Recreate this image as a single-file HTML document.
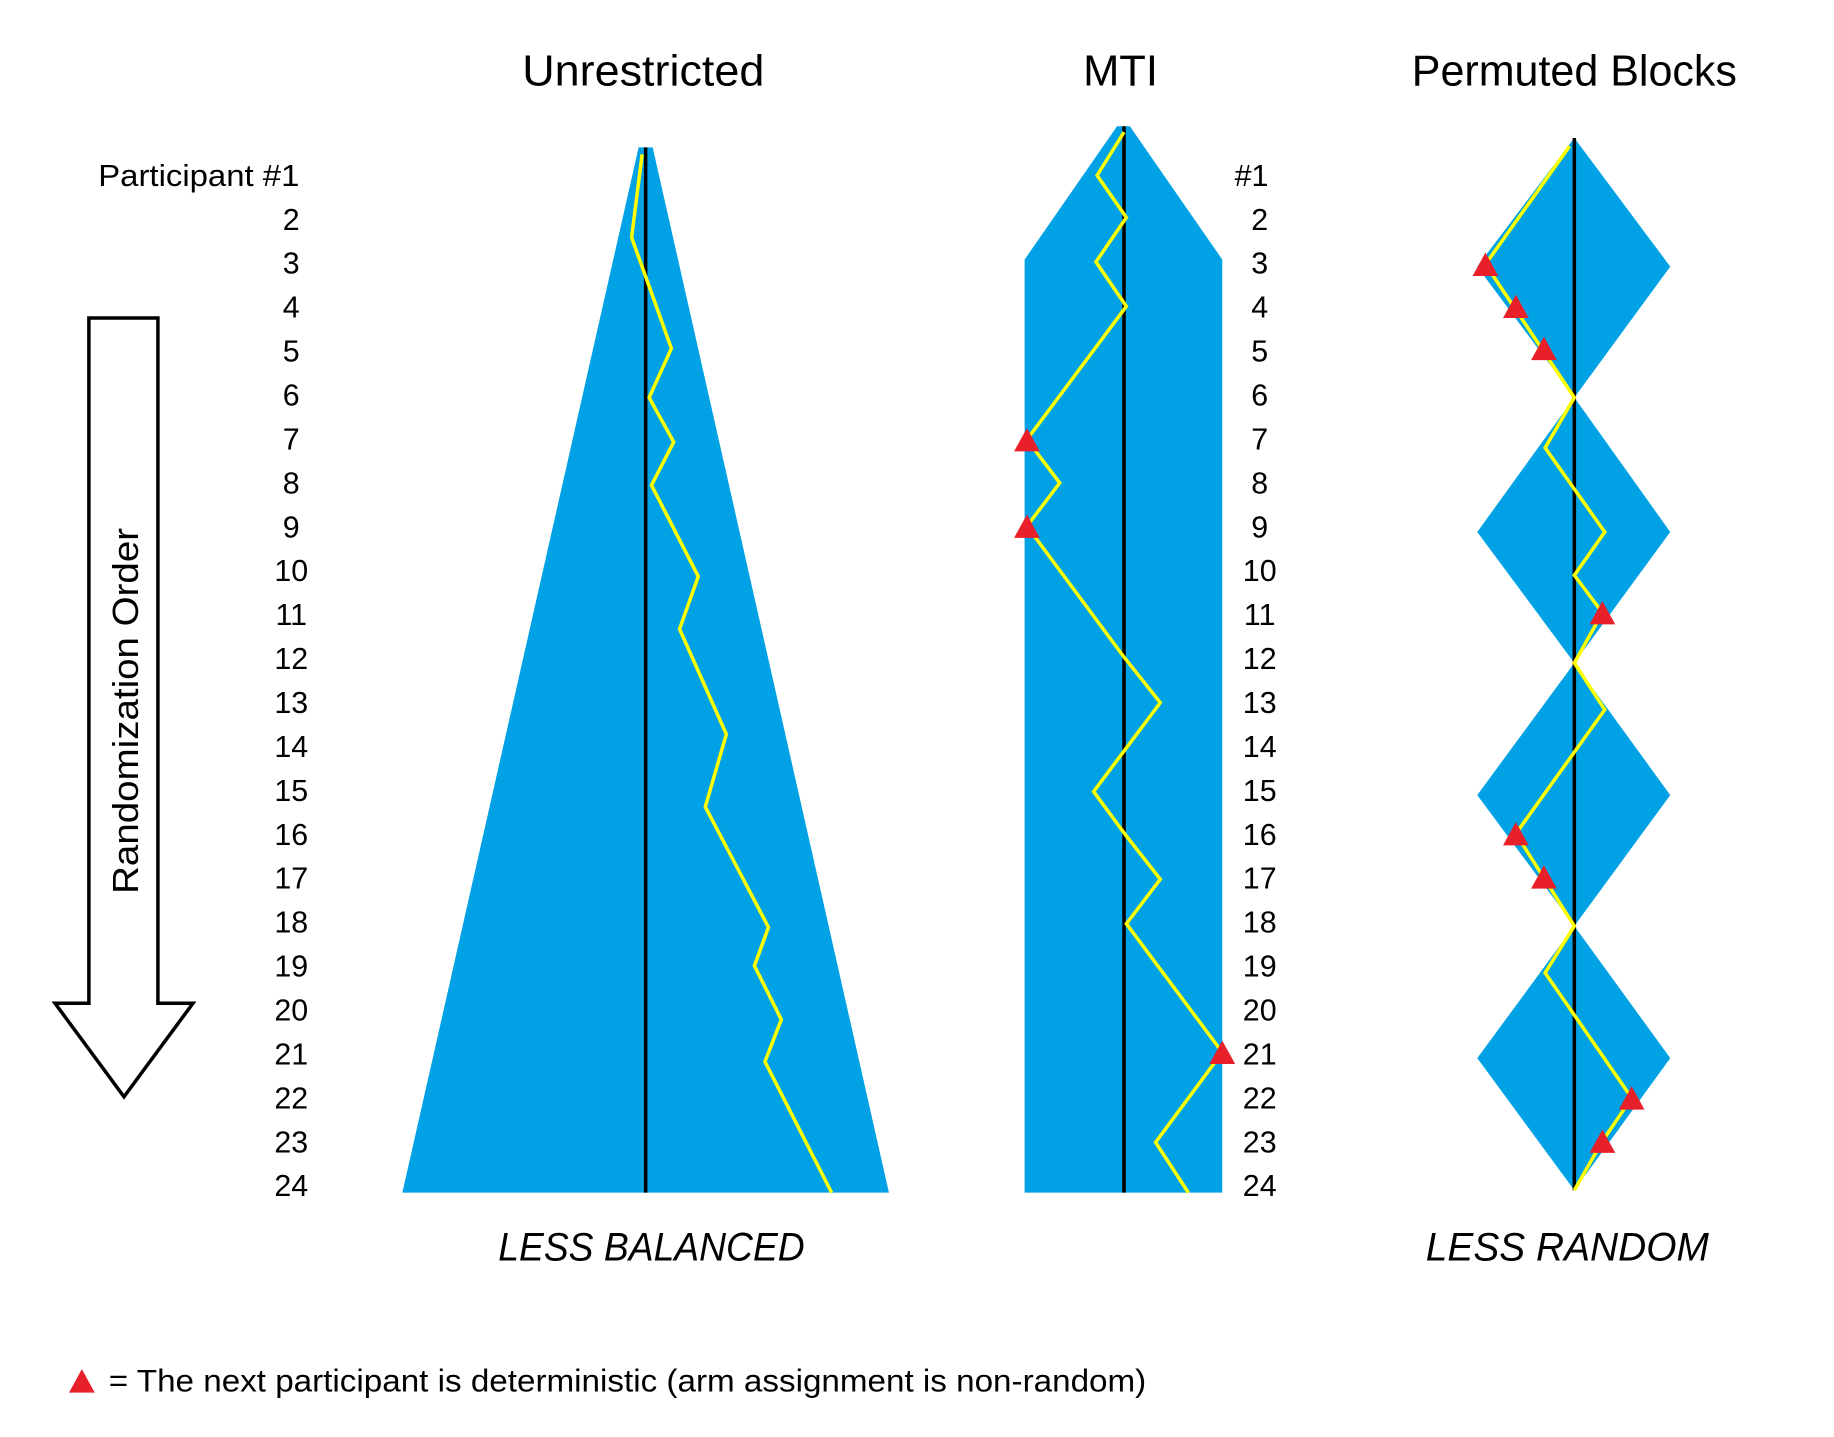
<!DOCTYPE html>
<html><head><style>html,body{margin:0;padding:0;background:#fff}svg{display:block}</style></head>
<body>
<svg width="1834" height="1437" viewBox="0 0 1568 1229" preserveAspectRatio="none" xmlns="http://www.w3.org/2000/svg" font-family="Liberation Sans, sans-serif">
<rect width="1568" height="1229" fill="#fff"/>
<g font-size="37" text-anchor="middle" fill="#000">
<text x="550" y="73" textLength="207" lengthAdjust="spacingAndGlyphs">Unrestricted</text>
<text x="958" y="73" textLength="64" lengthAdjust="spacingAndGlyphs">MTI</text>
<text x="1346" y="73" textLength="278" lengthAdjust="spacingAndGlyphs">Permuted Blocks</text>
</g>
<!-- Unrestricted -->
<polygon points="546,126 558,126 760,1020 344,1020" fill="#00a2e5"/>
<line x1="552" y1="126" x2="552" y2="1020" stroke="#000" stroke-width="3"/>
<polyline fill="none" stroke="#ffff00" stroke-width="3" points="549,132 540,203 574,298 555,340 576,378 557,415 597,493 581,538 621,628 603,690 657,793 645,826 668,872 654,908 711,1020"/>
<!-- MTI -->
<polygon points="955,108 966,108 1045,222 1045,1020 876,1020 876,222" fill="#00a2e5"/>
<line x1="961" y1="108" x2="961" y2="1020" stroke="#000" stroke-width="3"/>
<polyline fill="none" stroke="#ffff00" stroke-width="3" points="961,113 938,150 963,186 937,224 963,262 878,376 906,413 878,450 961,562 992,601 935,677 963,715 992,752 963,790 1045,900 988,977 1016,1020"/>
<!-- Permuted -->
<g fill="#00a2e5">
<polygon points="1346,118 1428,228 1346,340 1263,228"/>
<polygon points="1346,340 1428,455 1346,567 1263,455"/>
<polygon points="1346,567 1428,680 1346,792 1263,680"/>
<polygon points="1346,792 1428,905 1346,1018 1263,905"/>
</g>
<line x1="1346" y1="118" x2="1346" y2="1018" stroke="#000" stroke-width="3"/>
<polyline fill="none" stroke="#ffff00" stroke-width="3" points="1342,125 1270,226 1346,340 1321,383 1372,455 1346,492 1370,524 1346,567 1372,607 1296,713 1346,792 1321,832 1395,939 1370,976 1346,1018"/>
<g fill="#e8202a">
<polygon points="878,366 867,386 889,386"/>
<polygon points="878,440 867,460 889,460"/>
<polygon points="1045,890 1034,910 1056,910"/>
<polygon points="1270,216 1259,236 1281,236"/>
<polygon points="1296,252 1285,272 1307,272"/>
<polygon points="1320,288 1309,308 1331,308"/>
<polygon points="1370,514 1359,534 1381,534"/>
<polygon points="1296,703 1285,723 1307,723"/>
<polygon points="1320,740 1309,760 1331,760"/>
<polygon points="1395,929 1384,949 1406,949"/>
<polygon points="1370,966 1359,986 1381,986"/>
<polygon points="70,1171 59,1191 81,1191"/>
</g>
<!-- labels -->
<g font-size="26" fill="#000">
<text x="256" y="159" text-anchor="end" textLength="172" lengthAdjust="spacingAndGlyphs">Participant #1</text>
<text x="1070" y="159" text-anchor="middle">#1</text>
</g>
<g font-size="26" fill="#000" text-anchor="middle">
<text x="249" y="196.6">2</text><text x="1077" y="196.6">2</text>
<text x="249" y="234.1">3</text><text x="1077" y="234.1">3</text>
<text x="249" y="271.7">4</text><text x="1077" y="271.7">4</text>
<text x="249" y="309.3">5</text><text x="1077" y="309.3">5</text>
<text x="249" y="346.8">6</text><text x="1077" y="346.8">6</text>
<text x="249" y="384.4">7</text><text x="1077" y="384.4">7</text>
<text x="249" y="422">8</text><text x="1077" y="422">8</text>
<text x="249" y="459.6">9</text><text x="1077" y="459.6">9</text>
<text x="249" y="497.1">10</text><text x="1077" y="497.1">10</text>
<text x="249" y="534.7">11</text><text x="1077" y="534.7">11</text>
<text x="249" y="572.3">12</text><text x="1077" y="572.3">12</text>
<text x="249" y="609.8">13</text><text x="1077" y="609.8">13</text>
<text x="249" y="647.4">14</text><text x="1077" y="647.4">14</text>
<text x="249" y="685">15</text><text x="1077" y="685">15</text>
<text x="249" y="722.5">16</text><text x="1077" y="722.5">16</text>
<text x="249" y="760.1">17</text><text x="1077" y="760.1">17</text>
<text x="249" y="797.7">18</text><text x="1077" y="797.7">18</text>
<text x="249" y="835.2">19</text><text x="1077" y="835.2">19</text>
<text x="249" y="872.8">20</text><text x="1077" y="872.8">20</text>
<text x="249" y="910.4">21</text><text x="1077" y="910.4">21</text>
<text x="249" y="948">22</text><text x="1077" y="948">22</text>
<text x="249" y="985.5">23</text><text x="1077" y="985.5">23</text>
<text x="249" y="1023">24</text><text x="1077" y="1023">24</text>
</g>
<!-- arrow -->
<path d="M76,272 L135,272 L135,858 L165,858 L106,938 L47,858 L76,858 Z" fill="#fff" stroke="#000" stroke-width="3"/>
<text x="0" y="0" font-size="31" text-anchor="middle" textLength="313" lengthAdjust="spacingAndGlyphs" transform="translate(118,608) rotate(-90)">Randomization Order</text>
<g font-size="34" font-style="italic" text-anchor="middle">
<text x="557" y="1078" textLength="262" lengthAdjust="spacingAndGlyphs">LESS BALANCED</text>
<text x="1340" y="1078" textLength="242" lengthAdjust="spacingAndGlyphs">LESS RANDOM</text>
</g>
<text x="93" y="1190" font-size="27" textLength="887" lengthAdjust="spacingAndGlyphs">= The next participant is deterministic (arm assignment is non-random)</text>
</svg>
</body></html>
